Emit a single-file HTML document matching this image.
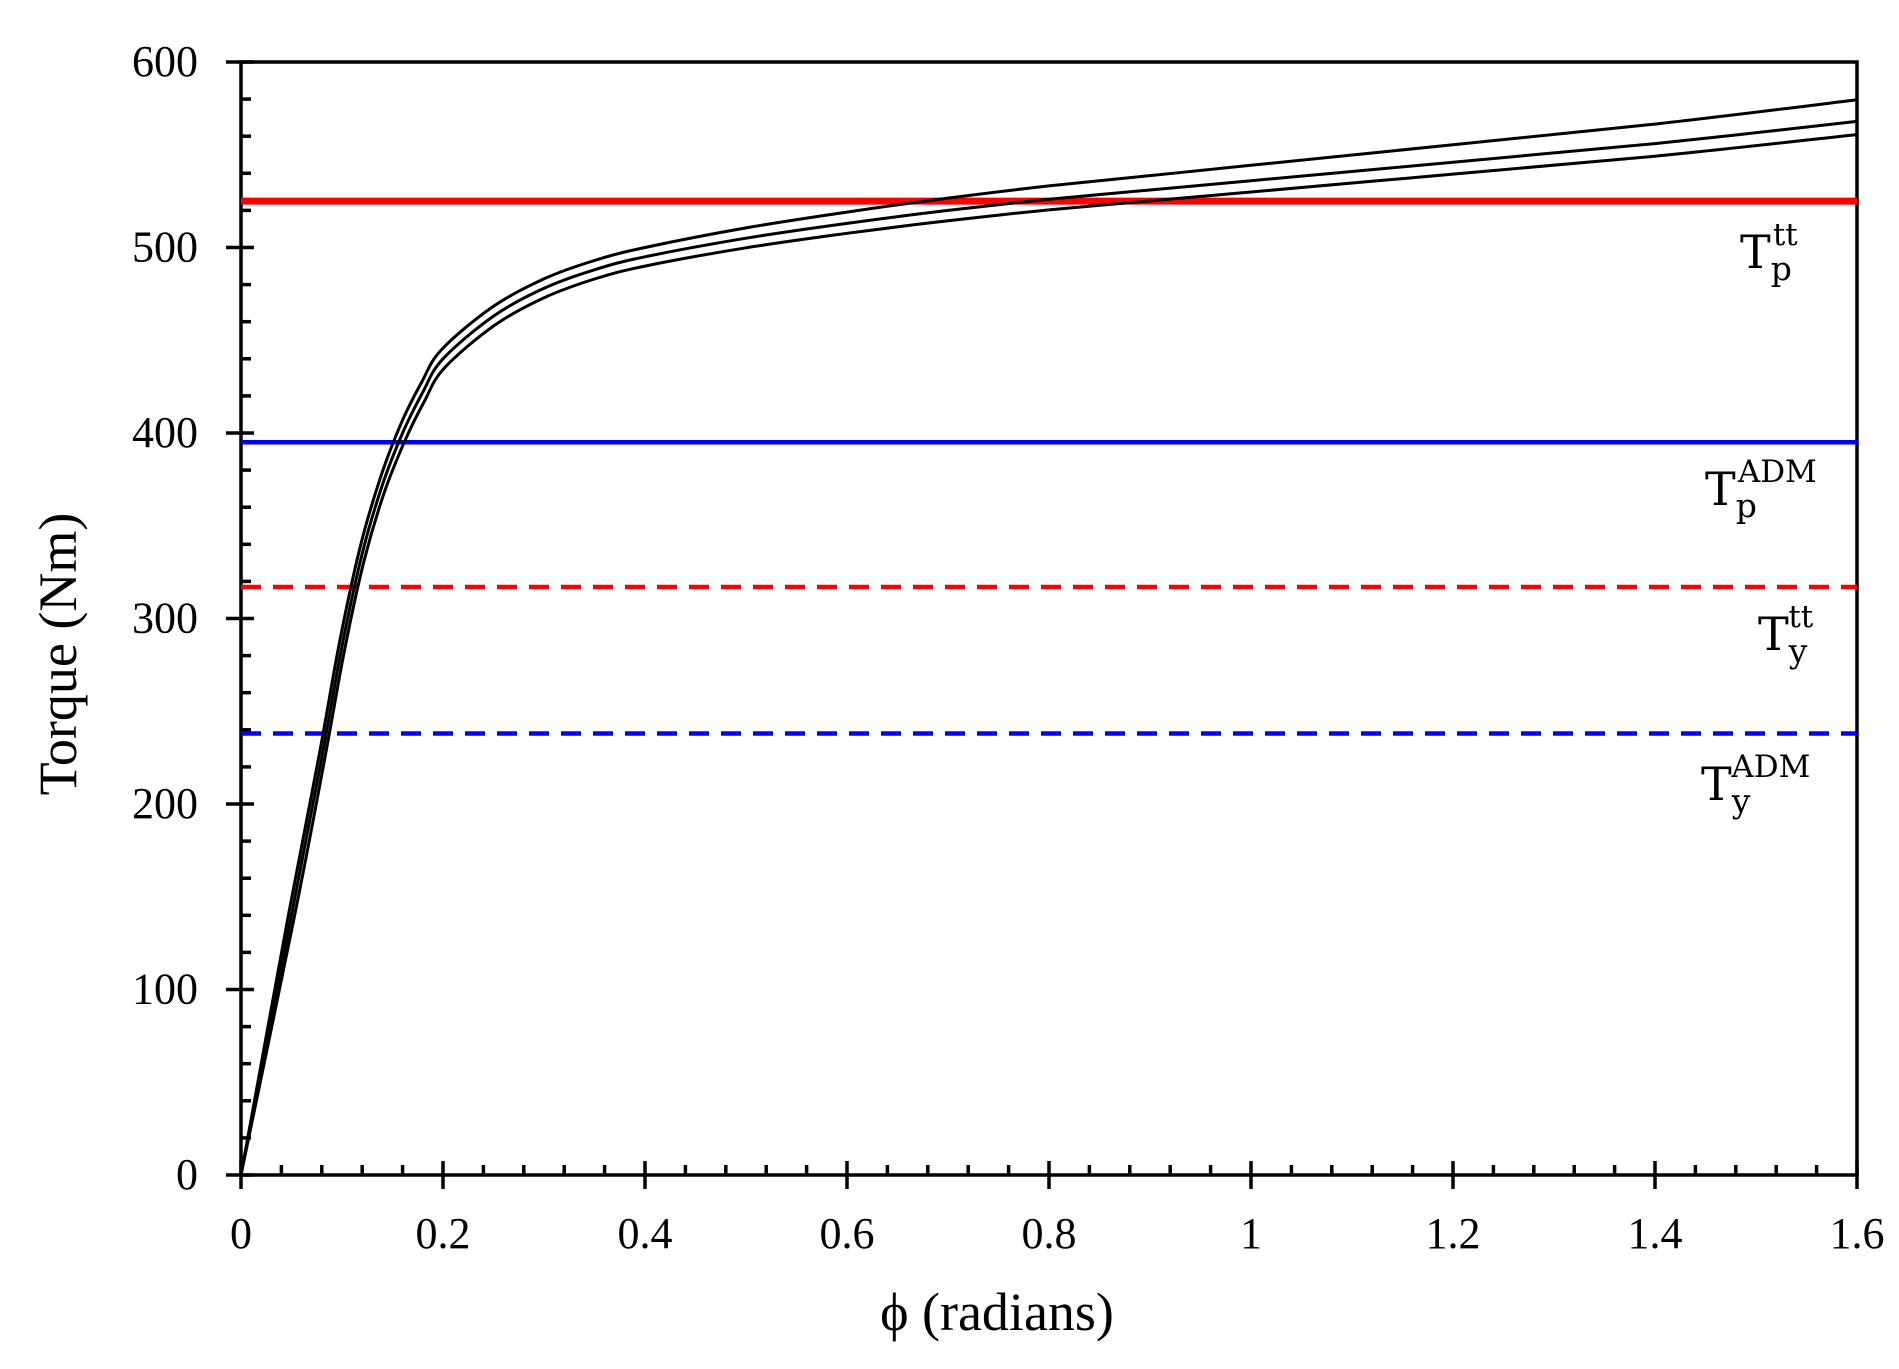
<!DOCTYPE html><html><head><style>body{margin:0;background:#fff}</style></head><body>
<svg id="s" width="1899" height="1364" xmlns="http://www.w3.org/2000/svg" font-family="Liberation Serif, serif"></svg>
<script>
const s=document.getElementById('s');const L=241,R=1857,T=62,B=1175;
const X=v=>L+v/1.6*(R-L),Y=v=>B-v/600*(B-T);
let h='';
h+=`<rect x="${L}" y="${T}" width="${R-L}" height="${B-T}" fill="none" stroke="#000" stroke-width="3.5"/>`;
for(let i=0;i<=30;i++){const y=Y(i*20),maj=i%5==0;
 h+=`<line x1="${maj?L-15:L}" x2="${L+(maj?13:10)}" y1="${y}" y2="${y}" stroke="#000" stroke-width="3.5"/>`;
 if(maj)h+=`<text x="198" y="${y+14}" font-size="44" text-anchor="end">${i*20}</text>`;}
for(let i=0;i<=40;i++){const x=X(i*0.04),maj=i%5==0;
 h+=`<line x1="${x}" x2="${x}" y1="${B-(maj?14:10)}" y2="${maj?B+14:B}" stroke="#000" stroke-width="3.5"/>`;
 if(maj){let t=(i*0.04).toFixed(1);if(t=='0.0')t='0';if(t=='1.0')t='1';h+=`<text x="${x}" y="1248" font-size="44" text-anchor="middle">${t}</text>`;}}
h+=`<line x1="${L}" x2="${R}" y1="${Y(525)}" y2="${Y(525)}" stroke="#f00" stroke-width="7"/>`;
h+=`<line x1="${L}" x2="${R}" y1="${Y(395)}" y2="${Y(395)}" stroke="#00f" stroke-width="4.5"/>`;
h+=`<line x1="${L}" x2="${R}" y1="${Y(317)}" y2="${Y(317)}" stroke="#f00" stroke-width="4.5" stroke-dasharray="20,12"/>`;
h+=`<line x1="${L}" x2="${R}" y1="${Y(238)}" y2="${Y(238)}" stroke="#00f" stroke-width="4.5" stroke-dasharray="20,12"/>`;
const P=[[0,0],[0.05,140],[0.08,225],[0.1,285],[0.12,335],[0.14,372],[0.16,400],[0.18,422],[0.2,440],[0.25,463],[0.3,478],[0.35,488],[0.4,495],[0.5,505],[0.6,513],[0.7,520],[0.8,526],[0.9,531],[1.0,536],[1.2,546],[1.4,556],[1.6,568]];
[-1,0,1].forEach(k=>{
 const pts=P.map(p=>{let off=p[0]<0.15?k*p[0]*30:k*(5+Math.max(0,p[0]-0.4)*5.5);if(k<0&&p[0]>0.4)off=-(5+(p[0]-0.4)*1.8);
  const sh=p[0]>0?-k*0.003*Math.max(0,1-p[0]/0.35):0;
  return [X(p[0]+sh),Y(p[1]+off)];});
 let d='M'+pts[0][0].toFixed(1)+','+pts[0][1].toFixed(1);
 for(let i=0;i<pts.length-1;i++){const p0=pts[Math.max(0,i-1)],p1=pts[i],p2=pts[i+1],p3=pts[Math.min(pts.length-1,i+2)];
  const c1=[p1[0]+(p2[0]-p0[0])/6,p1[1]+(p2[1]-p0[1])/6],c2=[p2[0]-(p3[0]-p1[0])/6,p2[1]-(p3[1]-p1[1])/6];
  d+=`C${c1[0].toFixed(1)},${c1[1].toFixed(1)} ${c2[0].toFixed(1)},${c2[1].toFixed(1)} ${p2[0].toFixed(1)},${p2[1].toFixed(1)}`;}
 h+=`<path d="${d}" fill="none" stroke="#000" stroke-width="3" stroke-linejoin="round"/>`;});
const lab=(x,y,sub,sup)=>`<text x="${x}" y="${y}" font-size="46" font-family="DejaVu Serif, serif">T<tspan font-size="33" dy="12">${sub}</tspan><tspan font-size="31" dx="${-19}" dy="-35">${sup}</tspan></text>`;
h+=lab(1740,268,'p','tt');h+=lab(1705,505,'p','ADM');h+=lab(1758,650,'y','tt');h+=lab(1701,800,'y','ADM');
h+=`<text x="997" y="1330" font-size="54" text-anchor="middle">ϕ (radians)</text>`;
h+=`<text transform="translate(76,654) rotate(-90)" font-size="54" text-anchor="middle">Torque (Nm)</text>`;
s.innerHTML=h;
</script></body></html>
